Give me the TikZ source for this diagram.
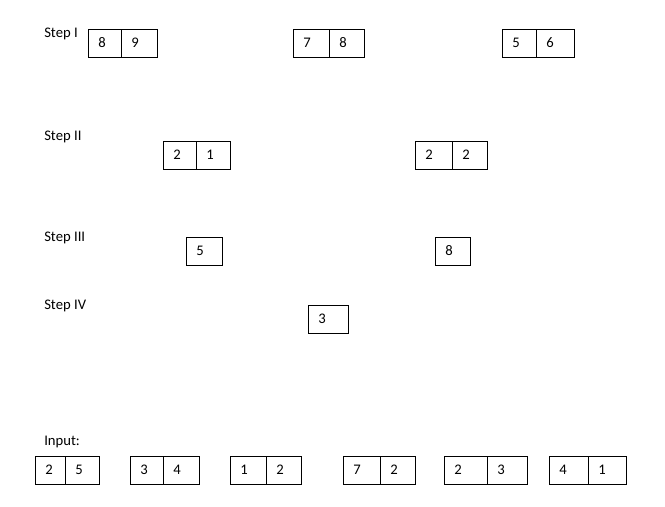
\documentclass[tikz,border=0pt]{standalone}
\usepackage{fontspec}
\setmainfont{Carlito}
\tikzset{
  boxcell/.style={draw=black, line width=0.75pt, minimum height=21pt, inner sep=0pt, outer sep=0pt},
  digit/.style={anchor=west, inner sep=0pt, font=\fontsize{11pt}{13pt}\selectfont},
  steplabel/.style={anchor=base west, inner sep=0pt, font=\fontsize{11pt}{13pt}\selectfont}
}
\newcommand\mycell[5]{%
  \pgfmathsetmacro\cw{(#3-#2)*0.75}%
  \node[boxcell, minimum width=\cw pt, anchor=north west] (#1) at (#2,#4) {};
  \node[digit] (#1d) at ([xshift=7.5pt]#1.west) {#5};
}
\begin{document}
\begin{tikzpicture}[x=0.75pt,y=-0.75pt]
\fill[white] (0,0) rectangle (665,507);
\useasboundingbox (0,0) rectangle (665,507);
% labels
\node[steplabel] (l1) at (44,37.5) {Step I};
\node[steplabel] (l2) at (44,140.5) {Step II};
\node[steplabel] (l3) at (44,241) {Step III};
\node[steplabel] (l4) at (44,309) {Step IV};
\node[steplabel] (l5) at (44,445) {Input:};
% Step I
\mycell{a1}{88}{121}{29}{8}
\mycell{a2}{121}{157}{29}{9}
\mycell{a3}{293}{329}{29}{7}
\mycell{a4}{329}{364}{29}{8}
\mycell{a5}{502}{536}{29}{5}
\mycell{a6}{536}{574}{29}{6}
% Step II
\mycell{b1}{163}{196}{141}{2}
\mycell{b2}{196}{230}{141}{1}
\mycell{b3}{415}{452}{141}{2}
\mycell{b4}{452}{487}{141}{2}
% Step III
\mycell{c1}{186}{222}{237}{5}
\mycell{c2}{435}{470}{237}{8}
% Step IV
\mycell{d1}{308}{348}{305}{3}
% Input
\mycell{e1}{35}{65}{456}{2}
\mycell{e2}{65}{99}{456}{5}
\mycell{e3}{130}{163}{456}{3}
\mycell{e4}{163}{199}{456}{4}
\mycell{e5}{230}{266}{456}{1}
\mycell{e6}{266}{301}{456}{2}
\mycell{e7}{343}{380}{456}{7}
\mycell{e8}{380}{415}{456}{2}
\mycell{e9}{444}{487}{456}{2}
\mycell{e10}{487}{527}{456}{3}
\mycell{e11}{549}{588}{456}{4}
\mycell{e12}{588}{626}{456}{1}
\end{tikzpicture}
\end{document}
